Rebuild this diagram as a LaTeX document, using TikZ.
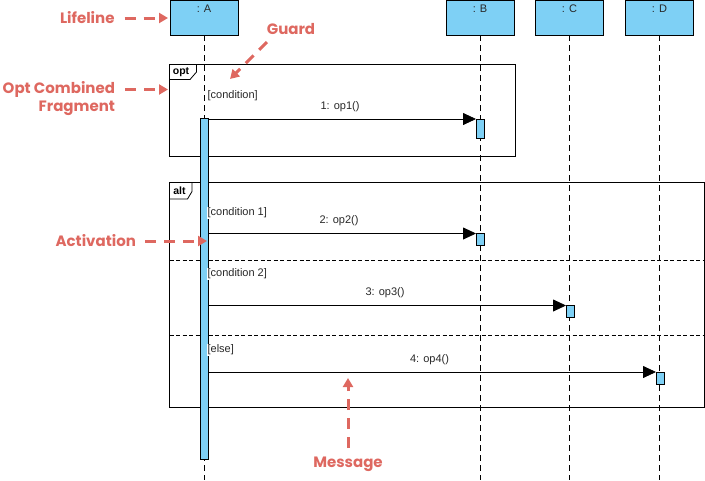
\documentclass[tikz,border=0pt]{standalone}
\usepackage{fontspec}
\setmainfont{Liberation Sans}
\newfontfamily\annfont{Poppins}
\usetikzlibrary{arrows.meta}
\definecolor{headblue}{RGB}{126,208,245}
\definecolor{annred}{RGB}{222,104,96}
\definecolor{txt}{RGB}{40,40,40}
\begin{document}
\begin{tikzpicture}[x=1pt,y=-1pt,
 every node/.style={inner sep=0pt, outer sep=0pt},
 head/.style={draw, line width=0.8pt, fill=headblue, minimum width=68pt, minimum height=35pt, anchor=north west},
 headtext/.style={font=\fontsize{11}{13}\selectfont, text=txt},
 life/.style={line width=0.8pt, dash pattern=on 6pt off 4pt},
 act/.style={draw, line width=0.8pt, fill=headblue, minimum width=8pt, anchor=north},
 frame/.style={draw, line width=0.8pt, anchor=north west},
 sep/.style={line width=0.8pt, dash pattern=on 4pt off 2.5pt},
 msg/.style={line width=0.8pt, -{Triangle[length=13pt,width=12pt]}},
 mlabel/.style={font=\fontsize{11}{13}\selectfont, text=txt},
 guard/.style={font=\fontsize{11}{13}\selectfont, text=txt, fill=white, anchor=west, inner sep=0.6pt},
 tabtext/.style={font=\bfseries\fontsize{10.5}{12}\selectfont},
 ann/.style={text=annred, font=\annfont\bfseries\fontsize{15}{18}\selectfont},
 annarrow/.style={draw=annred, line width=3pt, dash pattern=on 11pt off 8pt, -{Triangle[length=9pt,width=10pt]}}
]
\useasboundingbox (0,0) rectangle (705,480);
% heads
\node[head] (hA) at (170,0) {};
\node[head] (hB) at (446,0) {};
\node[head] (hC) at (535.5,0) {};
\node[head] (hD) at (625.5,0) {};
\node[headtext] (tA) at ([yshift=-9pt]hA.north) {: A};
\node[headtext] (tB) at ([yshift=-9pt]hB.north) {: B};
\node[headtext] (tC) at ([yshift=-9pt]hC.north) {: C};
\node[headtext] (tD) at ([yshift=-9pt]hD.north) {: D};
% lifelines
\coordinate (eA) at (204,480);
\coordinate (eB) at (480,480);
\coordinate (eC) at (569.5,480);
\coordinate (eD) at (659.5,480);
\draw[life] (hA.south) -- (eA);
\draw[life] (hB.south) -- (eB);
\draw[life] (hC.south) -- (eC);
\draw[life] (hD.south) -- (eD);
% frames
\node[frame, minimum width=346pt, minimum height=91.5pt] (opt) at (169.5,64.5) {};
\node[frame, minimum width=535pt, minimum height=225pt] (alt) at (169.5,182.5) {};
\draw[line width=0.8pt] (opt.north west) ++(27,0) -- ++(0,7.5) -- ++(-6.5,7.5) -- ++(-20.5,0);
\draw[line width=0.8pt] (alt.north west) ++(22.5,0) -- ++(0,9) -- ++(-4.5,7.5) -- ++(-18,0);
\node[tabtext] (optt) at (181,72) {opt};
\node[tabtext] (altt) at (179.5,190.5) {alt};
\coordinate (s1) at (169.5,260);
\coordinate (s1e) at (704.5,260);
\coordinate (s2) at (169.5,335);
\coordinate (s2e) at (704.5,335);
\draw[sep] (s1) -- (s1e);
\draw[sep] (s2) -- (s2e);
% activations
\node[act, minimum height=341pt] (aA) at (204,118.5) {};
\node[act, minimum height=19pt] (aB1) at (480,119) {};
\node[act, minimum height=12pt] (aB2) at (480,233.5) {};
\node[act, minimum height=12pt] (aC) at (570,305.5) {};
\node[act, minimum height=12pt] (aD) at (660,372) {};
% guards
\node[guard] (g0) at (207,95.5) {[condition]};
\node[guard] (g1) at (207,213) {[condition 1]};
\node[guard] (g2) at (207,274) {[condition 2]};
\node[guard] (g3) at (207,350) {[else]};
% messages
\draw[msg] (aA.east |- aB1.north) -- (aB1.north west);
\draw[msg] (aA.east |- aB2.north) -- (aB2.north west);
\draw[msg] (aA.east |- aC.north) -- (aC.north west);
\draw[msg] (aA.east |- aD.north) -- (aD.north west);
\node[mlabel] (l1) at (340,106.5) {1: op1()};
\node[mlabel] (l2) at (339,221) {2: op2()};
\node[mlabel] (l3) at (385,293) {3: op3()};
\node[mlabel] (l4) at (429.5,359.5) {4: op4()};
% annotations
\node[ann, anchor=east] (nLife) at (114.5,18) {Lifeline};
\node[ann, anchor=east, align=right] (nOpt) at (115,99) {Opt Combined\\Fragment};
\node[ann] (nGuard) at (291,29) {Guard};
\node[ann, anchor=east] (nAct) at (136,241) {Activation};
\node[ann] (nMsg) at (348,464) {Message};
\coordinate (pLife) at (168,18);
\coordinate (pOpt) at (168,89.5);
\coordinate (pGuardS) at (267,42);
\coordinate (pGuard) at (230,79);
\coordinate (pActS) at (145,241);
\coordinate (pAct) at (207,241);
\coordinate (pMsgS) at (348,448);
\coordinate (pMsg) at (348,378);
\draw[annarrow] ([xshift=10pt]nLife.east) -- (pLife);
\draw[annarrow] (125,89.5) -- (pOpt);
\draw[annarrow] (pGuardS) -- (pGuard);
\draw[annarrow] (pActS) -- (pAct);
\draw[annarrow] (pMsgS) -- (pMsg);
\end{tikzpicture}
\end{document}
